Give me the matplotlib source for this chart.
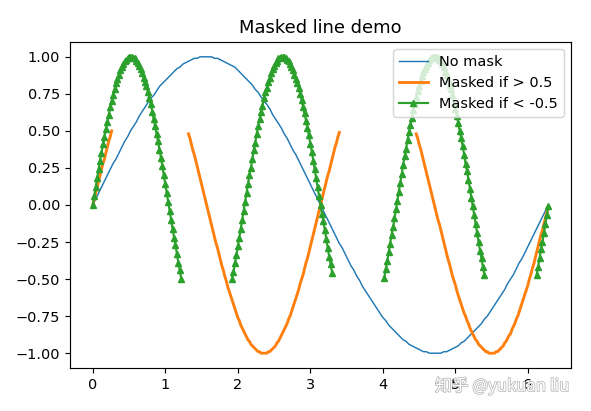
import matplotlib
matplotlib.use("Agg")
import matplotlib.pyplot as plt
import matplotlib.patheffects as pe
import numpy as np

# sample grid (step 0.02), the plain sine uses every other point
x = np.round(np.arange(0, 6.29, 0.02), 2)
x_nomask = x[::2]

# "No mask" line
nomask = [0.00, 0.04, 0.08, 0.12, 0.16, 0.20, 0.24, 0.28, 0.31, 0.35, 0.39, 0.43, 0.46, 0.50,
          0.53, 0.56, 0.60, 0.63, 0.66, 0.69, 0.72, 0.74, 0.77, 0.80, 0.82, 0.84, 0.86, 0.88,
          0.90, 0.92, 0.93, 0.95, 0.96, 0.97, 0.98, 0.99, 0.99, 1.00, 1.00, 1.00, 1.00, 1.00,
          0.99, 0.99, 0.98, 0.97, 0.96, 0.95, 0.94, 0.93, 0.91, 0.89, 0.87, 0.85, 0.83, 0.81,
          0.78, 0.76, 0.73, 0.70, 0.68, 0.65, 0.61, 0.58, 0.55, 0.52,
          0.48, 0.45, 0.41, 0.37, 0.34, 0.30, 0.26, 0.22, 0.18, 0.14, 0.10, 0.06, 0.02,
          -0.02, -0.06, -0.10, -0.14, -0.18, -0.22, -0.26, -0.29, -0.33, -0.37,
          -0.41, -0.44, -0.48, -0.51, -0.55, -0.58, -0.61, -0.64, -0.67, -0.70,
          -0.73, -0.76, -0.78, -0.81, -0.83, -0.85, -0.87, -0.89, -0.91, -0.92,
          -0.94, -0.95, -0.96, -0.97, -0.98, -0.99, -0.99, -1.00, -1.00, -1.00,
          -1.00, -1.00, -0.99, -0.99, -0.98, -0.97, -0.96, -0.95, -0.93, -0.92,
          -0.90, -0.88, -0.86, -0.84, -0.82, -0.80, -0.77, -0.75, -0.72, -0.69,
          -0.66, -0.63, -0.60, -0.57, -0.53, -0.50, -0.47, -0.43, -0.39, -0.36,
          -0.32, -0.28, -0.24, -0.20, -0.16, -0.12, -0.08, -0.04, 0.00]

# orange pieces (values above 0.5 are hidden)
orange_a = [0.00, 0.04, 0.08, 0.12, 0.16, 0.20, 0.24, 0.28, 0.31, 0.35, 0.39, 0.43, 0.46, 0.50]
orange_b = [0.48, 0.45, 0.41, 0.37, 0.34, 0.30, 0.26, 0.22, 0.18, 0.14, 0.10, 0.06, 0.02,
            -0.02, -0.06, -0.10, -0.14, -0.18, -0.22, -0.26, -0.29, -0.33, -0.37,
            -0.41, -0.44, -0.48, -0.51, -0.55, -0.58, -0.61, -0.64, -0.67, -0.70,
            -0.73, -0.76, -0.78, -0.81, -0.83, -0.85, -0.87, -0.89, -0.91, -0.92,
            -0.94, -0.95, -0.96, -0.97, -0.98, -0.99, -0.99, -1.00, -1.00, -1.00,
            -1.00, -1.00, -0.99, -0.99, -0.98, -0.97, -0.96, -0.95, -0.93, -0.92,
            -0.90, -0.88, -0.86, -0.84, -0.82, -0.80, -0.77, -0.75, -0.72, -0.69,
            -0.66, -0.63, -0.60, -0.57, -0.53, -0.50, -0.47, -0.43, -0.39, -0.36,
            -0.32, -0.28, -0.24, -0.20, -0.16, -0.12, -0.08, -0.04, 0.00,
            0.04, 0.08, 0.12, 0.16, 0.20, 0.23, 0.27, 0.31, 0.35, 0.39, 0.42, 0.46, 0.49]
orange_c = [0.48, 0.45, 0.41, 0.38, 0.34, 0.30, 0.26, 0.22, 0.18, 0.14, 0.10, 0.06, 0.02,
            -0.02, -0.06, -0.10, -0.13, -0.17, -0.21, -0.25, -0.29, -0.33, -0.37,
            -0.40, -0.44, -0.48, -0.51, -0.54, -0.58, -0.61, -0.64, -0.67, -0.70,
            -0.73, -0.75, -0.78, -0.80, -0.83, -0.85, -0.87, -0.89, -0.91, -0.92,
            -0.94, -0.95, -0.96, -0.97, -0.98, -0.99, -0.99, -1.00, -1.00, -1.00,
            -1.00, -1.00, -0.99, -0.99, -0.98, -0.97, -0.96, -0.95, -0.93, -0.92,
            -0.90, -0.88, -0.87, -0.84, -0.82, -0.80, -0.77, -0.75, -0.72, -0.69,
            -0.66, -0.63, -0.60, -0.57, -0.54, -0.50, -0.47, -0.43, -0.40, -0.36,
            -0.32, -0.28, -0.24, -0.20, -0.17, -0.13, -0.09, -0.05, -0.01]

# green pieces (values below -0.5 are hidden)
green_a = [0.00, 0.06, 0.12, 0.18, 0.24, 0.30, 0.35, 0.41, 0.46, 0.51,
           0.56, 0.61, 0.66, 0.70, 0.74, 0.78, 0.82, 0.85, 0.88, 0.91,
           0.93, 0.95, 0.97, 0.98, 0.99, 1.00, 1.00, 1.00, 0.99, 0.99,
           0.97, 0.96, 0.94, 0.92, 0.89, 0.86, 0.83, 0.80, 0.76, 0.72,
           0.68, 0.63, 0.58, 0.53, 0.48, 0.43, 0.37, 0.32, 0.26, 0.20,
           0.14, 0.08, 0.02, -0.04, -0.10, -0.16, -0.22, -0.27, -0.33, -0.39,
           -0.44, -0.50]
green_b = [-0.50, -0.45, -0.39, -0.34, -0.28, -0.22, -0.16, -0.10, -0.04, 0.02,
           0.08, 0.14, 0.20, 0.25, 0.31, 0.37, 0.42, 0.48, 0.53, 0.58,
           0.63, 0.67, 0.72, 0.76, 0.79, 0.83, 0.86, 0.89, 0.92, 0.94,
           0.96, 0.97, 0.99, 0.99, 1.00, 1.00, 1.00, 0.99, 0.98, 0.97,
           0.95, 0.93, 0.91, 0.88, 0.85, 0.82, 0.79, 0.75, 0.71, 0.66,
           0.62, 0.57, 0.52, 0.47, 0.41, 0.36, 0.30, 0.24, 0.18, 0.12,
           0.06, 0.00, -0.06, -0.11, -0.17, -0.23, -0.29, -0.35, -0.40, -0.46]
green_c = [-0.49, -0.43, -0.38, -0.32, -0.26, -0.20, -0.15, -0.09, -0.03, 0.03,
           0.09, 0.15, 0.21, 0.27, 0.33, 0.38, 0.44, 0.49, 0.54, 0.59,
           0.64, 0.68, 0.73, 0.77, 0.80, 0.84, 0.87, 0.90, 0.92, 0.94,
           0.96, 0.98, 0.99, 1.00, 1.00, 1.00, 1.00, 0.99, 0.98, 0.97,
           0.95, 0.93, 0.90, 0.88, 0.85, 0.81, 0.78, 0.74, 0.69, 0.65,
           0.60, 0.55, 0.50, 0.45, 0.40, 0.34, 0.28, 0.23, 0.17, 0.11,
           0.05, -0.01, -0.07, -0.13, -0.19, -0.25, -0.31, -0.36, -0.42, -0.47]
green_d = [-0.47, -0.42, -0.36, -0.30, -0.25, -0.19, -0.13, -0.07, -0.01]

labels = ['No mask', 'Masked if > 0.5', 'Masked if < -0.5']

# masked points -> None (gaps in the line)
orange = orange_a + [None] * 52 + orange_b + [None] * 52 + orange_c
green = green_a + [None] * 34 + green_b + [None] * 35 + green_c + [None] * 35 + green_d
orange = np.array(orange, dtype=float)
green = np.array(green, dtype=float)

fig = plt.figure(figsize=(591 / 104, 411 / 104), dpi=104)
ax = fig.add_axes([70 / 591, 43 / 411, 501 / 591, 326 / 411])

lines = ax.plot(x_nomask, nomask, x, orange, x, green)
plt.setp(lines[0], linewidth=1)
plt.setp(lines[1], linewidth=2)
plt.setp(lines[2], linestyle='-', marker='^', markersize=4)

ax.legend(labels, loc='upper right')
ax.set_title('Masked line demo', fontsize=12.4)

# watermark of the source image
fig.text(435 / 591, 1 - 386 / 411, '知乎 @yukuan liu', va='center', fontsize=11.6,
         family=['Noto Sans CJK SC', 'DejaVu Sans'], color='white',
         path_effects=[pe.withStroke(linewidth=1.0, foreground='#b4b4b4')])

fig.savefig('out.png', dpi=104)
